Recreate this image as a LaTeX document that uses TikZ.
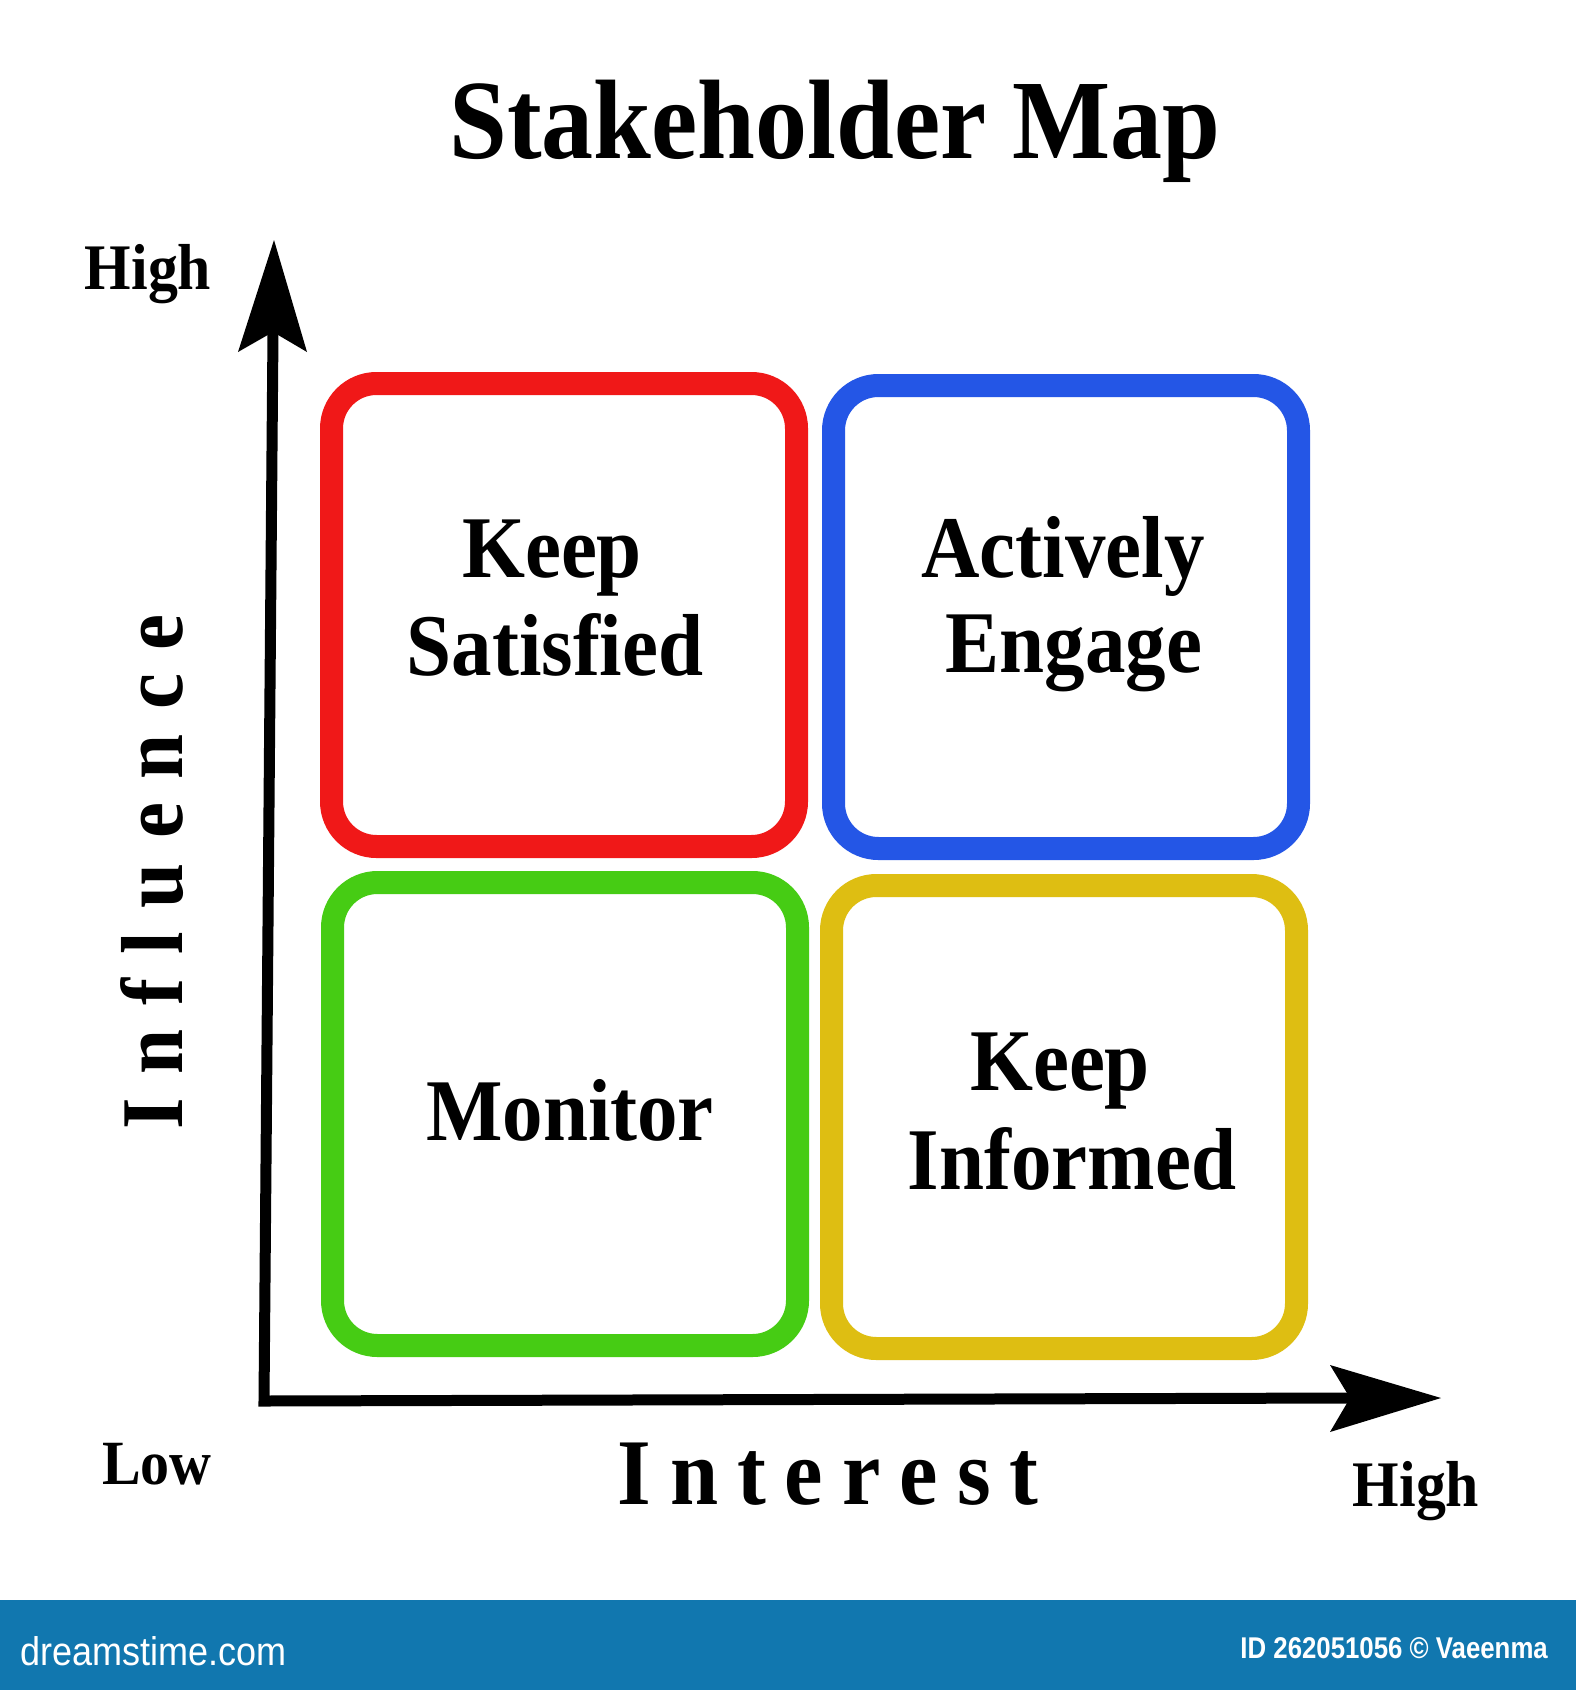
\documentclass[tikz,border=0pt]{standalone}
\usepackage{fontspec}
\usepackage{graphicx}
\setmainfont{Liberation Serif}[FakeStretch=0.92]
\newfontfamily\bannerfont{Liberation Sans}
\definecolor{qred}{RGB}{240,24,24}
\definecolor{qblue}{RGB}{36,86,230}
\definecolor{qgreen}{RGB}{70,204,20}
\definecolor{qyellow}{RGB}{222,190,18}
\definecolor{banner}{RGB}{17,119,175}
\newcommand\fsz[1]{\fontsize{#1bp}{#1bp}\selectfont}
\newcommand\lgap[1]{\hspace{#1bp}}
\begin{document}
\begin{tikzpicture}[x=1bp,y=-1bp,
  qbox/.style={draw, line width=23bp, rounded corners=45bp, minimum width=465bp, minimum height=463bp, inner sep=0pt, outer sep=0pt},
  boxtxt/.style={anchor=base, inner sep=0pt, font=\fsz{88}\bfseries},
  lbl/.style={anchor=base, inner sep=0pt, font=\bfseries},
  axis/.style={line width=11bp, line join=miter},
  head/.style={fill=black}]
\useasboundingbox (0,0) rectangle (1576,1690);
\fill[white] (0,0) rectangle (1576,1600);
\fill[banner] (0,1600) rectangle (1576,1690);

% title
\node[lbl, font=\fsz{113}\bfseries] (title) at (835,158) {Stakeholder Map};

% boxes
\node[qbox, draw=qred]    (ks) at (564,615) {};
\node[qbox, draw=qblue]   (ae) at (1066,617) {};
\node[qbox, draw=qgreen]  (mo) at (565,1114) {};
\node[qbox, draw=qyellow] (ki) at (1064,1117) {};

\node[boxtxt] (ks1) at (552,577) {Keep};
\node[boxtxt] (ks2) at (555,675) {Satisfied};
\node[boxtxt] (ae1) at (1063,577) {Actively};
\node[boxtxt] (ae2) at (1074,672) {Engage};
\node[boxtxt] (mo1) at (570,1140) {Monitor};
\node[boxtxt] (ki1) at (1060,1090) {Keep};
\node[boxtxt] (ki2) at (1072,1189) {Informed};

% axes
\coordinate (O) at (264,1401);
\coordinate (ytip) at (274,240);
\coordinate (ynotch) at (273,332);
\coordinate (xtip) at (1441,1398);
\coordinate (xnotch) at (1350,1398);
\draw[axis] (ynotch) -- (O) -- (xnotch);
\fill[head] (ytip) -- (307,352) -- (ynotch) -- (238,352) -- cycle;
\fill[head] (xtip) -- (1330,1432) -- (xnotch) -- (1330,1365) -- cycle;

% axis labels
\node[lbl, font=\fsz{65}\bfseries] (yhigh) at (148,289) {High};
\node[lbl, font=\fsz{63}\bfseries] (low) at (157,1484) {Low};
\node[lbl, font=\fsz{65}\bfseries] (xhigh) at (1416,1506) {High};
\node[lbl, font=\fsz{94}\bfseries] (interest) at (828,1504)
  {I\lgap{19}n\lgap{19}t\lgap{19}e\lgap{19}r\lgap{19}e\lgap{19}s\lgap{19}t};
\node[lbl, font=\fsz{88}\bfseries, rotate=90] (influence) at (182,872)
  {I\lgap{24}n\lgap{24}f\lgap{24}l\lgap{24}u\lgap{24}e\lgap{24}n\lgap{24}c\lgap{24}e};

% banner texts
\node[anchor=base west, inner sep=0pt, text=white] (ds) at (20,1665)
  {\scalebox{0.9}[1]{\bannerfont\fsz{40}dreamstime.com}};
\node[anchor=base east, inner sep=0pt, text=white] (id) at (1548,1658)
  {\scalebox{0.86}[1]{\bannerfont\bfseries\fsz{30}ID 262051056 © Vaeenma}};
\end{tikzpicture}
\end{document}
